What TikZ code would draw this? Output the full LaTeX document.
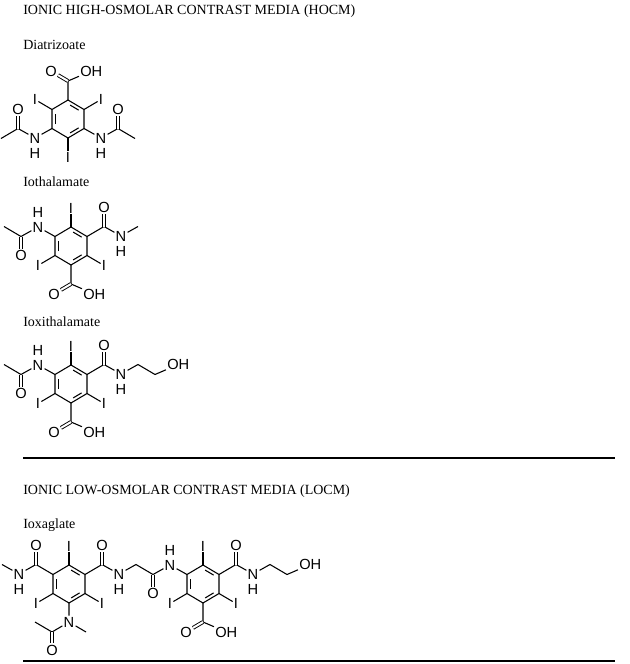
\documentclass[tikz,border=0pt]{standalone}
\usepackage{fontspec}
\setmainfont{Liberation Serif}
\newfontfamily\atomfont{Liberation Sans}
\usetikzlibrary{calc}
\tikzset{
  bond/.style={line width=0.8pt},
  dbl/.style={double, double distance=1.5pt, line width=0.7pt},
  atom/.style={font=\atomfont\fontsize{11}{11}\selectfont, inner sep=0.8pt},
  heading/.style={font=\fontsize{10.5}{12}\selectfont, anchor=west, inner sep=0pt},
  rule/.style={line width=1.4pt}
}
\newcommand\ringat[3]{%
  \coordinate (#1c) at (#2,#3);
  \coordinate (#1t) at (#2,#3-19);
  \coordinate (#1ur) at (#2+16,#3-9.5);
  \coordinate (#1lr) at (#2+16,#3+9.5);
  \coordinate (#1b) at (#2,#3+19);
  \coordinate (#1ll) at (#2-16,#3+9.5);
  \coordinate (#1ul) at (#2-16,#3-9.5);
  \draw[bond] (#1t)--(#1ur)--(#1lr)--(#1b)--(#1ll)--(#1ul)--cycle;
  \draw[bond] ($(#1t)!0.17!(#1ur)!0.2!(#1c)$)--($(#1ur)!0.17!(#1t)!0.2!(#1c)$);
  \draw[bond] ($(#1lr)!0.17!(#1b)!0.2!(#1c)$)--($(#1b)!0.17!(#1lr)!0.2!(#1c)$);
  \draw[bond] ($(#1ll)!0.17!(#1ul)!0.2!(#1c)$)--($(#1ul)!0.17!(#1ll)!0.2!(#1c)$);
}
\begin{document}
\begin{tikzpicture}[x=0.75pt,y=-0.75pt]
\useasboundingbox (0,0) rectangle (630,664);
% headings
\node[heading] (h1) at (23,11) {IONIC HIGH-OSMOLAR CONTRAST MEDIA (HOCM)};
\node[heading] (n1) at (23,45) {Diatrizoate};
\node[heading] (n2) at (23,182) {Iothalamate};
\node[heading] (n3) at (23,322) {Ioxithalamate};
\node[heading] (h2) at (23,491) {IONIC LOW-OSMOLAR CONTRAST MEDIA (LOCM)};
\node[heading] (n4) at (23,525) {Ioxaglate};
\coordinate (l1a) at (23,458); \coordinate (l1b) at (615,458);
\coordinate (l2a) at (23,661); \coordinate (l2b) at (615,661);
\draw[rule] (l1a)--(l1b);
\draw[rule] (l2a)--(l2b);

% ---------- Diatrizoate ----------
\ringat{A}{68}{119}
\coordinate (AC1) at (68,81);
\node[atom] (AO1) at (51,71) {O};
\node[atom,anchor=west] (AOH) at (79,71) {OH};
\draw[bond] (At)--(AC1)--(AOH); \draw[dbl] (AC1)--(AO1);
\node[atom] (AI1) at (35,99.5) {I};
\node[atom] (AI2) at (101,99.5) {I};
\node[atom] (AI3) at (68,157) {I};
\draw[bond] (Aul)--(AI1); \draw[bond] (Aur)--(AI2); \draw[bond] (Ab)--(AI3);
\node[atom] (AN1) at (35,138) {N};
\node[atom] (AH1) at (35,153) {H};
\coordinate (AC2) at (18,128.5);
\node[atom] (AO2) at (18,109.5) {O};
\coordinate (AM2) at (1,138.5);
\draw[bond] (All)--(AN1)--(AC2)--(AM2); \draw[dbl] (AC2)--(AO2);
\node[atom] (AN2) at (101,138) {N};
\node[atom] (AH2) at (101,153) {H};
\coordinate (AC3) at (118,128.5);
\node[atom] (AO3) at (118,109.5) {O};
\coordinate (AM3) at (135,138.5);
\draw[bond] (Alr)--(AN2)--(AC3)--(AM3); \draw[dbl] (AC3)--(AO3);

% ---------- Iothalamate ----------
\ringat{B}{71}{246}
\node[atom] (BI1) at (71,208) {I};
\draw[bond] (Bt)--(BI1);
\node[atom] (BN1) at (38,227) {N};
\node[atom] (BH1) at (38,212) {H};
\coordinate (BC2) at (21,236.5);
\node[atom] (BO2) at (21,255.5) {O};
\coordinate (BM2) at (4,226.5);
\draw[bond] (Bul)--(BN1)--(BC2)--(BM2); \draw[dbl] (BC2)--(BO2);
\coordinate (BC3) at (104,226.5);
\node[atom] (BO3) at (104,207.5) {O};
\node[atom] (BN3) at (121,236) {N};
\node[atom] (BH3) at (121,251) {H};
\coordinate (BM3) at (138,226.5);
\draw[bond] (Bur)--(BC3)--(BN3)--(BM3); \draw[dbl] (BC3)--(BO3);
\node[atom] (BI2) at (38,265.5) {I};
\node[atom] (BI3) at (104,265.5) {I};
\draw[bond] (Bll)--(BI2); \draw[bond] (Blr)--(BI3);
\coordinate (BC4) at (71,284);
\node[atom] (BO4) at (54,294) {O};
\node[atom,anchor=west] (BOH) at (82,294) {OH};
\draw[bond] (Bb)--(BC4)--(BOH); \draw[dbl] (BC4)--(BO4);

% ---------- Ioxithalamate ----------
\ringat{C}{71}{384}
\node[atom] (CI1) at (71,346) {I};
\draw[bond] (Ct)--(CI1);
\node[atom] (CN1) at (38,365) {N};
\node[atom] (CH1) at (38,350) {H};
\coordinate (CC2) at (21,374.5);
\node[atom] (CO2) at (21,393.5) {O};
\coordinate (CM2) at (4,364.5);
\draw[bond] (Cul)--(CN1)--(CC2)--(CM2); \draw[dbl] (CC2)--(CO2);
\coordinate (CC3) at (104,364.5);
\node[atom] (CO3) at (104,345.5) {O};
\node[atom] (CN3) at (121,374) {N};
\node[atom] (CH3) at (121,389) {H};
\coordinate (CC5) at (138,364.5);
\coordinate (CC6) at (155,374.5);
\node[atom,anchor=west] (COH) at (166,364.5) {OH};
\draw[bond] (Cur)--(CC3)--(CN3)--(CC5)--(CC6)--(COH); \draw[dbl] (CC3)--(CO3);
\node[atom] (CI2) at (38,403.5) {I};
\node[atom] (CI3) at (104,403.5) {I};
\draw[bond] (Cll)--(CI2); \draw[bond] (Clr)--(CI3);
\coordinate (CC4) at (71,422);
\node[atom] (CO4) at (54,432) {O};
\node[atom,anchor=west] (COH2) at (82,432) {OH};
\draw[bond] (Cb)--(CC4)--(COH2); \draw[dbl] (CC4)--(CO4);

% ---------- Ioxaglate ----------
\ringat{D}{69}{584}
\ringat{E}{203}{584}
\node[atom] (DI1) at (69,546) {I};
\draw[bond] (Dt)--(DI1);
\coordinate (DC1) at (36,564.5);
\node[atom] (DO1) at (36,545.5) {O};
\node[atom] (DN1) at (19,574) {N};
\node[atom] (DH1) at (19,589) {H};
\coordinate (DM1) at (2,564.5);
\draw[bond] (Dul)--(DC1)--(DN1)--(DM1); \draw[dbl] (DC1)--(DO1);
\coordinate (DC2) at (102,564.5);
\node[atom] (DO2) at (102,545.5) {O};
\node[atom] (DN2) at (119,574) {N};
\node[atom] (DH2) at (119,589) {H};
\coordinate (DC3) at (136,564.5);
\coordinate (DC4) at (153,574.5);
\node[atom] (DO4) at (153,593.5) {O};
\node[atom] (DN4) at (170,565) {N};
\node[atom] (DH4) at (170,550) {H};
\draw[bond] (Dur)--(DC2)--(DN2)--(DC3)--(DC4)--(DN4)--(Eul);
\draw[dbl] (DC2)--(DO2); \draw[dbl] (DC4)--(DO4);
\node[atom] (DI2) at (36,603.5) {I};
\node[atom] (DI3) at (102,603.5) {I};
\draw[bond] (Dll)--(DI2); \draw[bond] (Dlr)--(DI3);
\node[atom] (DN5) at (69,622) {N};
\coordinate (DC5) at (52,632);
\node[atom] (DO5) at (52,650) {O};
\coordinate (DM5a) at (35,622);
\coordinate (DM5b) at (86,632);
\draw[bond] (Db)--(DN5)--(DC5)--(DM5a); \draw[bond] (DN5)--(DM5b);
\draw[dbl] (DC5)--(DO5);
\node[atom] (EI1) at (203,546) {I};
\draw[bond] (Et)--(EI1);
\coordinate (EC1) at (236,564.5);
\node[atom] (EO1) at (236,545.5) {O};
\node[atom] (EN1) at (253,574) {N};
\node[atom] (EH1) at (253,589) {H};
\coordinate (EC2) at (270,564.5);
\coordinate (EC3) at (287,574.5);
\node[atom,anchor=west] (EOH) at (298,564.5) {OH};
\draw[bond] (Eur)--(EC1)--(EN1)--(EC2)--(EC3)--(EOH); \draw[dbl] (EC1)--(EO1);
\node[atom] (EI2) at (170,603.5) {I};
\node[atom] (EI3) at (236,603.5) {I};
\draw[bond] (Ell)--(EI2); \draw[bond] (Elr)--(EI3);
\coordinate (EC4) at (203,622);
\node[atom] (EO4) at (186,632) {O};
\node[atom,anchor=west] (EOH2) at (214,632) {OH};
\draw[bond] (Eb)--(EC4)--(EOH2); \draw[dbl] (EC4)--(EO4);
\end{tikzpicture}
\end{document}
